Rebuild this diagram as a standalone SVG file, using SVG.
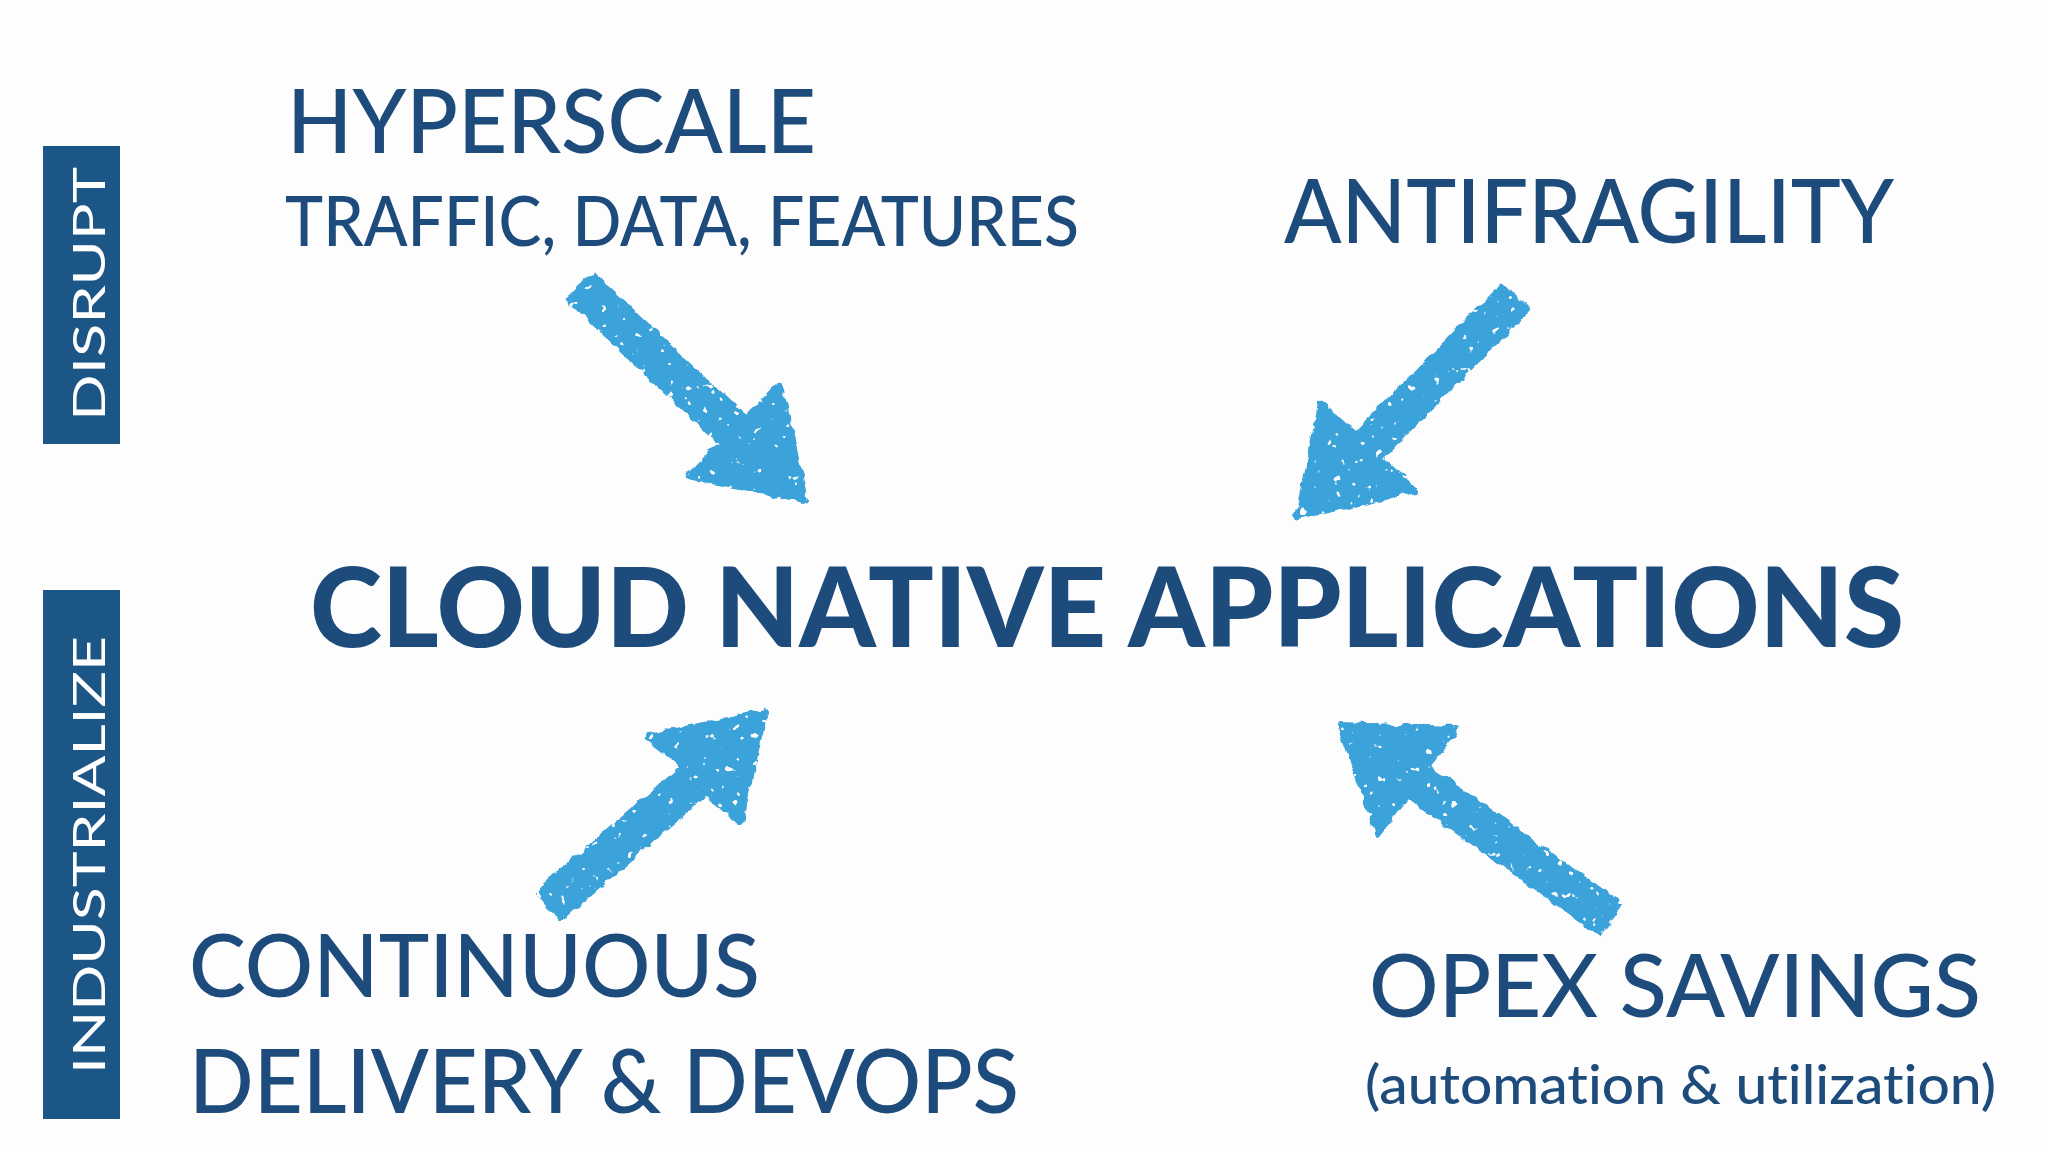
<svg xmlns="http://www.w3.org/2000/svg" width="2048" height="1152" viewBox="0 0 2048 1152">
  <defs>
    <style>
      .t { font-family: Lato, "Noto Sans", "Liberation Sans", sans-serif; fill: #1d4c7c; font-variant-ligatures: none; font-feature-settings: "liga" 0; }
      .big { font-weight: 500; }
      .hero { font-weight: 900; }
      .side { fill: #1b5686; }
      .sidetxt { font-family: Lato, "Liberation Sans", sans-serif; fill: #ffffff; font-weight: 400; }
      .arrow { fill: #3aa2da; stroke: #3aa2da; stroke-width: 6; stroke-linejoin: round; filter: url(#crayon); }
    </style>
    <filter id="crayon" x="-15%" y="-15%" width="130%" height="130%">
      <feTurbulence type="fractalNoise" baseFrequency="0.09" numOctaves="2" seed="3" result="n"/>
      <feDisplacementMap in="SourceGraphic" in2="n" scale="8" xChannelSelector="R" yChannelSelector="G" result="d"/>
      <feTurbulence type="fractalNoise" baseFrequency="0.12" numOctaves="2" seed="11" result="n2"/>
      <feColorMatrix in="n2" type="matrix" values="0 0 0 0 0  0 0 0 0 0  0 0 0 0 0  0 0 0 -18 13.6" result="holes"/>
      <feComposite in="d" in2="holes" operator="in"/>
    </filter>
  </defs>
  <rect x="0" y="0" width="2048" height="1152" fill="#fdfdfd"/>

  <g id="disrupt">
    <rect class="side" x="43" y="146" width="77" height="298"/>
    <text class="sidetxt" transform="translate(105,294) rotate(-90)" text-anchor="middle" font-size="44" textLength="254" lengthAdjust="spacingAndGlyphs">DISRUPT</text>
  </g>
  <g id="industrialize">
    <rect class="side" x="43" y="590" width="77" height="529"/>
    <text class="sidetxt" transform="translate(105,855) rotate(-90)" text-anchor="middle" font-size="44" textLength="438" lengthAdjust="spacingAndGlyphs">INDUSTRIALIZE</text>
  </g>

  <g id="hyperscale">
    <text class="t big" x="287" y="153" font-size="89" textLength="529" lengthAdjust="spacingAndGlyphs">HYPERSCALE</text>
    <text class="t big" x="285" y="246" font-size="70" textLength="794" lengthAdjust="spacingAndGlyphs">TRAFFIC, DATA, FEATURES</text>
  </g>
  <g id="antifragility">
    <text class="t big" x="1284" y="243" font-size="88" textLength="610" lengthAdjust="spacingAndGlyphs">ANTIFRAGILITY</text>
  </g>
  <g id="cloud-native">
    <text class="t hero" x="310" y="647" font-size="110" textLength="1594" lengthAdjust="spacingAndGlyphs">CLOUD NATIVE APPLICATIONS</text>
  </g>
  <g id="continuous-delivery">
    <text class="t big" x="189" y="997" font-size="87" textLength="571" lengthAdjust="spacingAndGlyphs">CONTINUOUS</text>
    <text class="t big" x="189" y="1113" font-size="89" textLength="830" lengthAdjust="spacingAndGlyphs">DELIVERY &amp; DEVOPS</text>
  </g>
  <g id="opex-savings">
    <text class="t big" x="1369" y="1017" font-size="87" textLength="612" lengthAdjust="spacingAndGlyphs">OPEX SAVINGS</text>
    <text class="t big" x="1365" y="1104" font-size="54" textLength="631" lengthAdjust="spacingAndGlyphs">(automation &amp; utilization)</text>
  </g>

  <g id="connectors">
    <path class="arrow" d="M569,299 L593,275 L746,419 L780,385 L805,500 L688,477 L722,443 Z"/>
    <path class="arrow" d="M1503,286 L1355,435 L1320,404 L1298,517 L1415,490 L1379,459 L1527,310 Z"/>
    <path class="arrow" d="M538,892 L684,767 L649,737 L765,712 L741,823 L706,793 L560,918 Z"/>
    <path class="arrow" d="M1619,904 L1427,767 L1456,729 L1339,725 L1378,833 L1407,795 L1599,932 Z"/>
  </g>
</svg>
